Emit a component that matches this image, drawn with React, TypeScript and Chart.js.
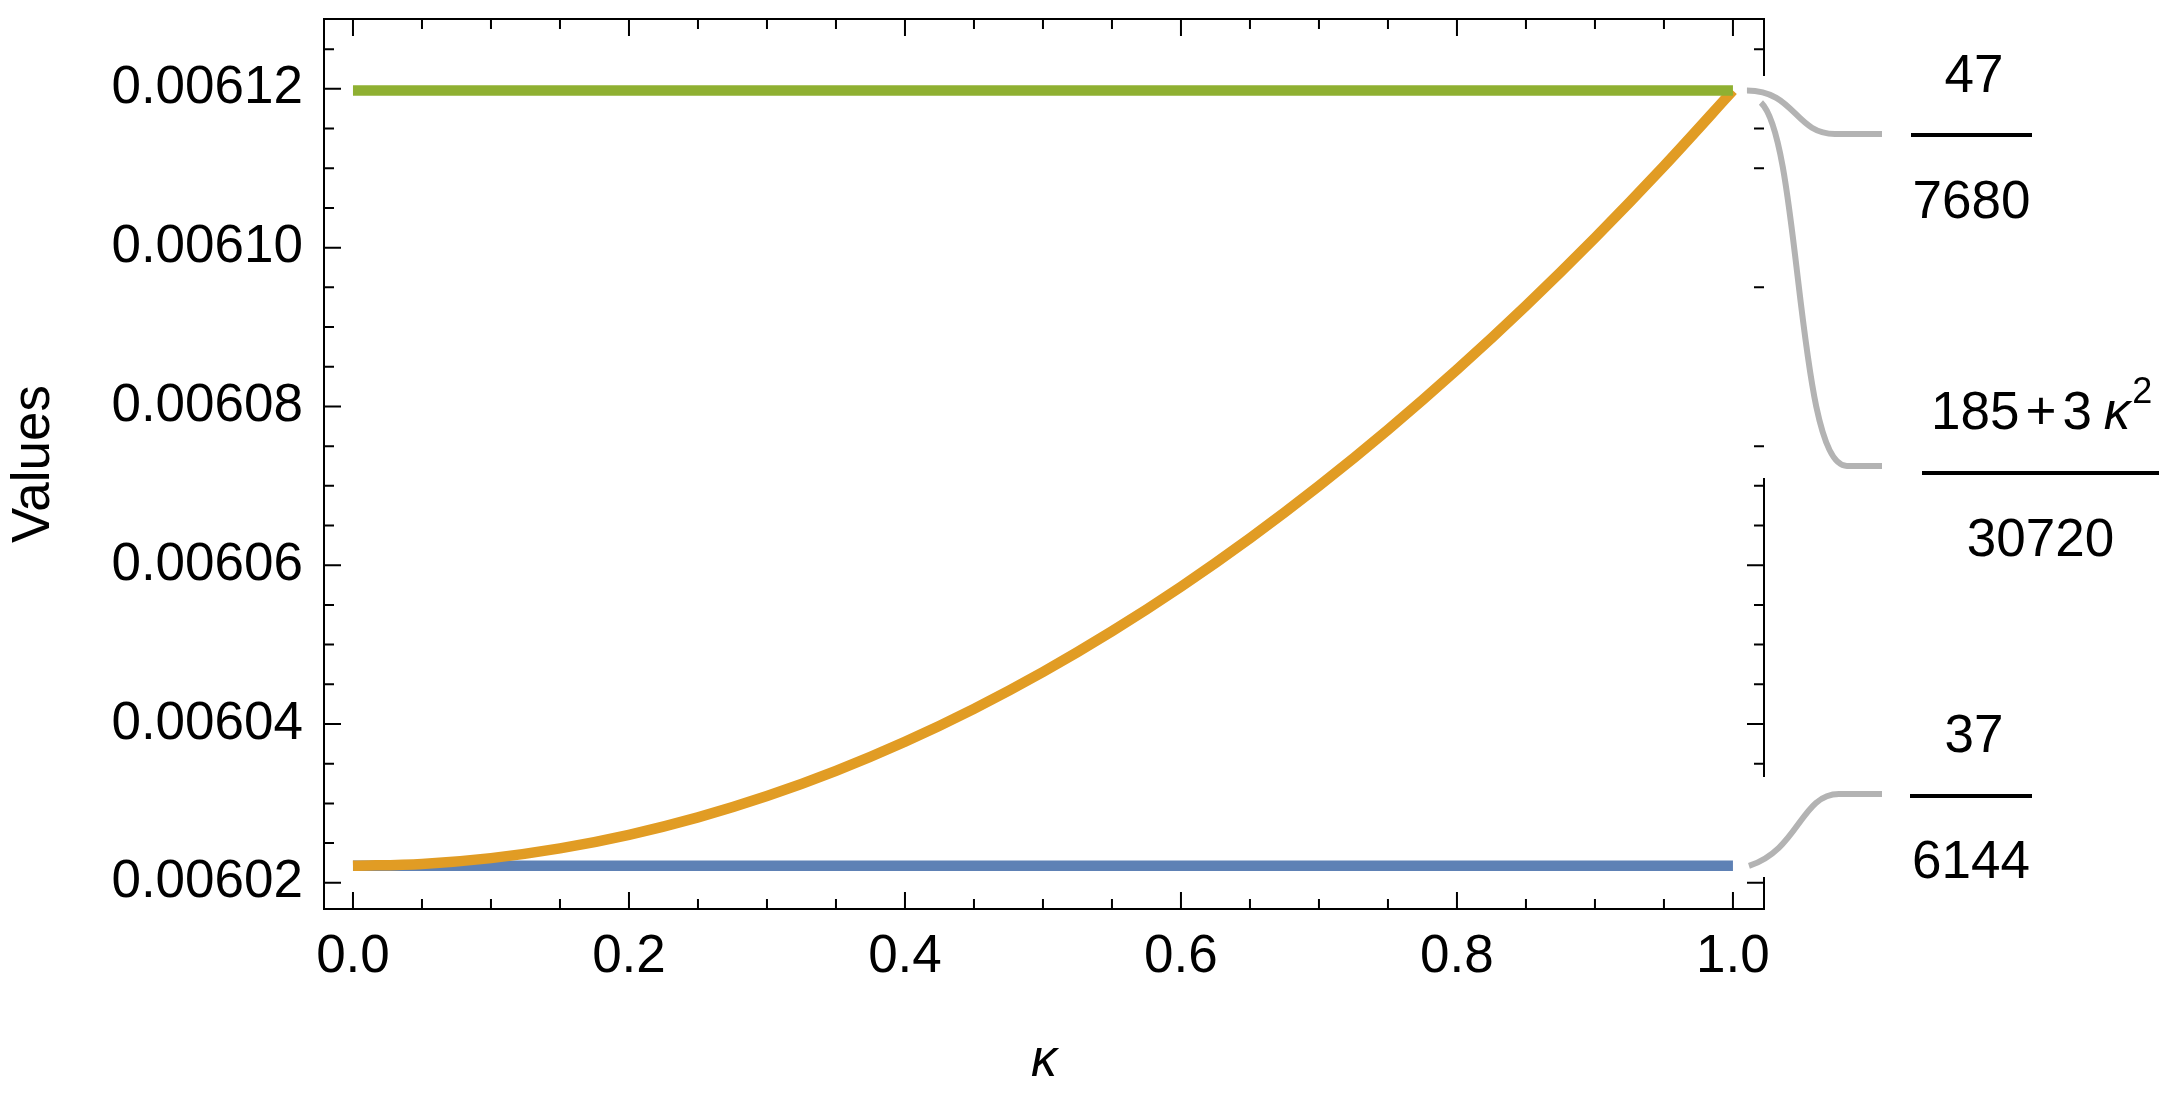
import React, { useEffect, useRef } from "react";
import { Chart, registerables } from "chart.js";

Chart.register(...registerables);

// ---- data ----
const kappa = [0, 0.05, 0.1, 0.15, 0.2, 0.25, 0.3, 0.35, 0.4, 0.45, 0.5, 0.55, 0.6, 0.65, 0.7, 0.75, 0.8, 0.85, 0.9, 0.95, 1.0];
const orangeValues = [
  0.0060221354, 0.0060223795, 0.006023112, 0.0060243327, 0.0060260417, 0.0060282389, 0.0060309245,
  0.0060340983, 0.0060377604, 0.0060419108, 0.0060465495, 0.0060516764, 0.0060572917, 0.0060633952,
  0.006069987, 0.006077067, 0.0060846354, 0.006092692, 0.006101237, 0.0061102702, 0.0061197917,
];
const kappaEnds = [0, 1];
const blueValues = [0.0060221354, 0.0060221354];
const greenValues = [0.0061197917, 0.0061197917];

const xTickValues = [0, 0.2, 0.4, 0.6, 0.8, 1.0];
const yTickValues = [0.00602, 0.00604, 0.00606, 0.00608, 0.0061, 0.00612];

const greenLabel = { num: "47", den: "7680" };
const orangeLabel = { num: ["185", "+", "3", "κ", "2"], den: "30720" };
const blueLabel = { num: "37", den: "6144" };

const FONT = "'Liberation Sans', Arial, sans-serif";
const BLUE = "#5E81B5";
const ORANGE = "#E19C24";
const GREEN = "#8FB032";
const LEADER = "#b3b3b3";

const framePlugin = {
  id: "frame",
  beforeDatasetsDraw(chart: any) {
    const { ctx, chartArea } = chart;
    const { left, right, top, bottom } = chartArea;
    const xs = chart.scales.x;
    const ys = chart.scales.y;
    ctx.save();
    ctx.strokeStyle = "#000";
    ctx.lineWidth = 2;
    ctx.lineCap = "square";
    ctx.beginPath();
    ctx.moveTo(left, top);
    ctx.lineTo(right, top);
    ctx.moveTo(left, top);
    ctx.lineTo(left, bottom);
    ctx.lineTo(right, bottom);
    // right frame with gaps where the callouts sit
    const segs = [
      [top, 75],
      [479, 776],
      [878, bottom],
    ];
    for (const [a, b] of segs) {
      ctx.moveTo(right, a);
      ctx.lineTo(right, b);
    }
    ctx.stroke();

    ctx.lineCap = "butt";
    ctx.beginPath();
    const MAJ = 17;
    const MIN = 10;
    // x ticks
    const xStep = 0.05;
    for (let k = Math.ceil(xs.min / xStep - 1e-9); k * xStep <= xs.max + 1e-12; k++) {
      const px = xs.getPixelForValue(k * xStep);
      const len = k % 4 === 0 ? MAJ : MIN;
      ctx.moveTo(px, bottom);
      ctx.lineTo(px, bottom - len);
      ctx.moveTo(px, top);
      ctx.lineTo(px, top + len);
    }
    // y ticks
    const yStep = 0.000005;
    const hiddenRight = [1224, 1221, 1220, 1218, 1217, 1216, 1206, 1205];
    for (let k = Math.ceil(ys.min / yStep - 1e-9); k * yStep <= ys.max + 1e-12; k++) {
      const py = ys.getPixelForValue(k * yStep);
      const len = k % 4 === 0 ? MAJ : MIN;
      ctx.moveTo(left, py);
      ctx.lineTo(left + len, py);
      if (!hiddenRight.includes(k)) {
        ctx.moveTo(right, py);
        ctx.lineTo(right - len, py);
      }
    }
    ctx.stroke();
    ctx.restore();
  },
};

function drawFraction(ctx: any, cx: number, numBase: number, barY: number, barL: number, barR: number, denBase: number, num: string | null, den: string) {
  ctx.font = `53px ${FONT}`;
  ctx.fillStyle = "#000";
  ctx.textAlign = "center";
  ctx.textBaseline = "alphabetic";
  if (num !== null) ctx.fillText(num, cx, numBase);
  ctx.fillText(den, (barL + barR) / 2, denBase);
  ctx.fillRect(barL, barY - 2, barR - barL, 4);
}

const calloutPlugin = {
  id: "callouts",
  afterDraw(chart: any) {
    const { ctx } = chart;
    const xs = chart.scales.x;
    const ys = chart.scales.y;
    const xEnd = xs.getPixelForValue(kappaEnds[1]);
    const gY = ys.getPixelForValue(greenValues[1]);
    const oY = ys.getPixelForValue(orangeValues[orangeValues.length - 1]);
    const bY = ys.getPixelForValue(blueValues[1]);
    ctx.save();
    ctx.strokeStyle = LEADER;
    ctx.lineWidth = 6;
    ctx.lineCap = "butt";
    // leader for green
    ctx.beginPath();
    ctx.moveTo(xEnd + 14, gY);
    ctx.bezierCurveTo(xEnd + 62, gY, xEnd + 62, 134, xEnd + 102, 134);
    ctx.lineTo(1882, 134);
    ctx.stroke();
    // leader for orange
    ctx.beginPath();
    ctx.moveTo(xEnd + 28, oY + 12);
    ctx.bezierCurveTo(xEnd + 68, oY + 50, xEnd + 64, 466, xEnd + 114, 466);
    ctx.lineTo(1882, 466);
    ctx.stroke();
    // leader for blue
    ctx.beginPath();
    ctx.moveTo(xEnd + 16, bY);
    ctx.bezierCurveTo(xEnd + 66, bY - 16, xEnd + 68, 794, xEnd + 106, 794);
    ctx.lineTo(1882, 794);
    ctx.stroke();

    // labels
    drawFraction(ctx, 1974, 92, 135, 1911, 2032, 218, greenLabel.num, greenLabel.den);
    drawFraction(ctx, 1974, 752, 796, 1910, 2032, 878, blueLabel.num, blueLabel.den);
    drawFraction(ctx, 0, 0, 473, 1922, 2159, 556, null, orangeLabel.den);

    // numerator 185 + 3 κ^2
    const [a, plus, three, k, sup] = orangeLabel.num;
    ctx.textAlign = "left";
    let x = 1931;
    const base = 429;
    ctx.font = `53px ${FONT}`;
    ctx.fillText(a, x, base);
    x += ctx.measureText(a).width + 6;
    ctx.fillText(plus, x, base);
    x += ctx.measureText(plus).width + 6;
    ctx.fillText(three, x, base);
    x += ctx.measureText(three).width + 12;
    ctx.font = `italic 53px ${FONT}`;
    ctx.fillText(k, x, base);
    x += ctx.measureText(k).width + 2;
    ctx.font = `36px ${FONT}`;
    ctx.fillText(sup, x, 403);
    ctx.restore();
  },
};

export default function App() {
  const ref = useRef<HTMLCanvasElement | null>(null);
  useEffect(() => {
    if (!ref.current) return;
    const chart = new Chart(ref.current, {
      type: "line",
      data: {
        datasets: [
          {
            label: "47/7680",
            data: kappaEnds.map((x, i) => ({ x, y: greenValues[i] })),
            borderColor: GREEN,
            borderWidth: 10.5,
            pointRadius: 0,
            order: 1,
          },
          {
            label: "(185+3κ²)/30720",
            data: kappa.map((x, i) => ({ x, y: orangeValues[i] })),
            borderColor: ORANGE,
            borderWidth: 10.5,
            pointRadius: 0,
            cubicInterpolationMode: "monotone",
            order: 2,
          },
          {
            label: "37/6144",
            data: kappaEnds.map((x, i) => ({ x, y: blueValues[i] })),
            borderColor: BLUE,
            borderWidth: 10.5,
            pointRadius: 0,
            order: 3,
          },
        ],
      } as any,
      options: {
        animation: false,
        responsive: false,
        devicePixelRatio: 1,
        layout: { padding: { left: 0, right: 405, top: 19, bottom: 0 } },
        plugins: { legend: { display: false }, tooltip: { enabled: false } },
        scales: {
          x: {
            type: "linear",
            min: -0.021,
            max: 1.0225,
            grid: { display: false, drawTicks: false },
            border: { display: false },
            afterBuildTicks: (s: any) => {
              s.ticks = xTickValues.map((v) => ({ value: v }));
            },
            afterFit: (s: any) => {
              s.height = 188;
              s.paddingLeft = 0;
              s.paddingRight = 0;
            },
            ticks: {
              callback: (v: any) => Number(v).toFixed(1),
              font: { family: FONT, size: 53 },
              color: "#000",
              padding: 17,
              maxRotation: 0,
              autoSkip: false,
            },
            title: {
              display: true,
              text: "κ",
              color: "#000",
              font: { family: FONT, size: 52, style: "italic" },
              padding: { top: 0, bottom: 4 },
            },
          },
          y: {
            type: "linear",
            min: 0.0060167,
            max: 0.0061288,
            grid: { display: false, drawTicks: false },
            border: { display: false },
            afterBuildTicks: (s: any) => {
              s.ticks = yTickValues.map((v) => ({ value: v }));
            },
            afterFit: (s: any) => {
              s.width = 324;
              s.paddingTop = 0;
              s.paddingBottom = 0;
            },
            ticks: {
              callback: (v: any) => Number(v).toFixed(5),
              font: { family: FONT, size: 53 },
              color: "#000",
              padding: 21,
              autoSkip: false,
            },
            title: {
              display: true,
              text: "Values",
              color: "#000",
              font: { family: FONT, size: 53 },
              padding: { top: 3, bottom: 0 },
            },
          },
        },
      } as any,
      plugins: [framePlugin, calloutPlugin],
    });
    return () => chart.destroy();
  }, []);
  return (
    <div style={{ position: "absolute", left: 0, top: 0, width: 2169, height: 1097, background: "#fff" }}>
      <canvas ref={ref} width={2169} height={1097} style={{ display: "block", width: 2169, height: 1097 }} />
    </div>
  );
}
